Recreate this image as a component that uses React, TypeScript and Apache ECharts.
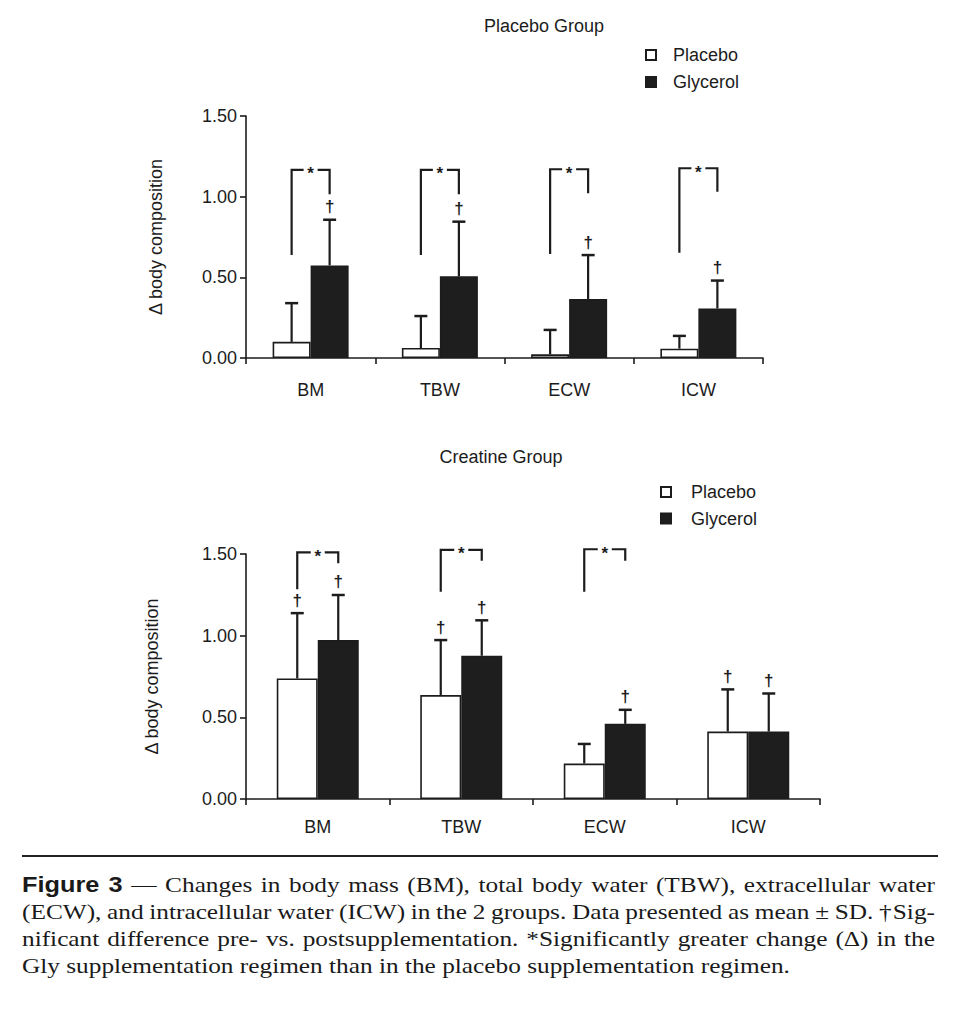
import React, { useEffect, useRef } from 'react';
import * as echarts from 'echarts';

// ---------- data ----------
const categories = ['BM', 'TBW', 'ECW', 'ICW'];
const yMin = 0;
const yMax = 1.5;
const yInterval = 0.5;

// Placebo Group panel
const pgPlaceboMean = [0.1, 0.062, 0.023, 0.058];
const pgPlaceboSD = [0.24, 0.198, 0.151, 0.079];
const pgPlaceboDagger = [0, 0, 0, 0];
const pgGlycerolMean = [0.574, 0.506, 0.366, 0.307];
const pgGlycerolSD = [0.283, 0.339, 0.272, 0.173];
const pgGlycerolDagger = [1, 1, 1, 1];
// [category index, bracket top, left leg bottom, right leg bottom]
const pgBrackets = [
  [0, 1.166, 0.638, 1.015],
  [1, 1.166, 0.638, 1.015],
  [2, 1.17, 0.645, 1.021],
  [3, 1.176, 0.652, 1.031],
];

// Creatine Group panel
const cgPlaceboMean = [0.738, 0.636, 0.217, 0.413];
const cgPlaceboSD = [0.4, 0.337, 0.12, 0.258];
const cgPlaceboDagger = [1, 1, 0, 1];
const cgGlycerolMean = [0.973, 0.877, 0.46, 0.413];
const cgGlycerolSD = [0.276, 0.217, 0.086, 0.233];
const cgGlycerolDagger = [1, 1, 1, 1];
const cgBrackets = [
  [0, 1.51, 1.284, 1.443],
  [1, 1.525, 1.269, 1.459],
  [2, 1.529, 1.269, 1.459],
];

const seriesNames = ['Placebo', 'Glycerol'];
const titles = ['Placebo Group', 'Creatine Group'];
const yAxisName = 'Δ body composition';

// ---------- styling ----------
const INK = '#1c1c1c';
const FONT = '"Liberation Sans", Arial, sans-serif';
const FS = 18;
const BW1 = 38;
const BW2 = 41;

const errorBarRender = (side: number, bw: number) => (params: any, api: any) => {
  const i = api.value(0);
  const m = api.value(1);
  const sd = api.value(2);
  const dg = api.value(3);
  const base = api.coord([i, m]);
  const top = api.coord([i, m + sd]);
  const cx = base[0] + (side * bw) / 2;
  const children: any[] = [
    { type: 'line', shape: { x1: cx, y1: base[1], x2: cx, y2: top[1] }, style: { stroke: INK, lineWidth: 2.2 } },
    { type: 'line', shape: { x1: cx - 6.5, y1: top[1], x2: cx + 6.5, y2: top[1] }, style: { stroke: INK, lineWidth: 2.5 } },
  ];
  if (dg) {
    children.push({
      type: 'text',
      x: cx,
      y: top[1] - 13,
      style: { text: '†', fill: INK, font: `bold 17px ${FONT}`, align: 'center', verticalAlign: 'middle' },
    });
  }
  return { type: 'group', children };
};

const bracketRender = (bw: number) => (params: any, api: any) => {
  const i = api.value(0);
  const t = api.value(1);
  const lb = api.value(2);
  const rb = api.value(3);
  const c = api.coord([i, t]);
  const xl = c[0] - bw / 2;
  const xr = c[0] + bw / 2;
  const yt = c[1];
  const yl = api.coord([i, lb])[1];
  const yr = api.coord([i, rb])[1];
  const st = { stroke: INK, lineWidth: 2.2, fill: 'none' };
  return {
    type: 'group',
    children: [
      { type: 'polyline', shape: { points: [[xl, yl], [xl, yt], [c[0] - 7, yt]] }, style: st },
      { type: 'polyline', shape: { points: [[c[0] + 7, yt], [xr, yt], [xr, yr]] }, style: st },
      {
        type: 'text',
        x: c[0],
        y: yt + 4,
        style: { text: '*', fill: INK, font: `bold 17px ${FONT}`, align: 'center', verticalAlign: 'middle' },
      },
    ],
  };
};

const toErr = (mean: number[], sd: number[], dg: number[]) => mean.map((m, i) => [i, m, sd[i], dg[i]]);

function axisPair(gridIndex: number, labelMargin: number, nameGap: number) {
  const x = {
    type: 'category',
    gridIndex,
    data: categories,
    axisLine: { show: true, lineStyle: { color: INK, width: 1.6 } },
    axisTick: { show: true, length: 6, lineStyle: { color: INK, width: 1.6 } },
    axisLabel: { color: INK, fontSize: FS, fontFamily: FONT, margin: labelMargin },
  };
  const y = {
    type: 'value',
    gridIndex,
    min: yMin,
    max: yMax,
    interval: yInterval,
    name: yAxisName,
    nameLocation: 'middle',
    nameRotate: 90,
    nameGap,
    nameTextStyle: { color: INK, fontSize: FS, fontFamily: FONT },
    axisLine: { show: true, lineStyle: { color: INK, width: 1.6 } },
    axisTick: { show: true, length: 6, lineStyle: { color: INK, width: 1.6 } },
    axisLabel: { color: INK, fontSize: FS, fontFamily: FONT, margin: 9, formatter: (v: number) => v.toFixed(2) },
    splitLine: { show: false },
  };
  return { x, y };
}

function buildOption() {
  const a1 = axisPair(0, 23, 81);
  const a2 = axisPair(1, 19, 85);
  const placeboStyle = { color: '#ffffff', borderColor: INK, borderWidth: 1.6 };
  const glyStyle = { color: '#1e1e1e', borderColor: INK, borderWidth: 1.6 };
  return {
    animation: false,
    backgroundColor: '#ffffff',
    title: [
      { text: titles[0], left: 544, top: 17, textAlign: 'center', padding: 0, textStyle: { color: INK, fontSize: FS, fontWeight: 'normal', fontFamily: FONT } },
      { text: titles[1], left: 501, top: 448, textAlign: 'center', padding: 0, textStyle: { color: INK, fontSize: FS, fontWeight: 'normal', fontFamily: FONT } },
    ],
    legend: [
      {
        data: seriesNames,
        orient: 'vertical',
        left: 645,
        top: 46,
        padding: 0,
        itemGap: 9,
        itemWidth: 10,
        itemHeight: 10,
        icon: 'rect',
        selectedMode: false,
        textStyle: { color: INK, fontSize: FS, fontFamily: FONT, lineHeight: 18, padding: [0, 0, 0, 12] },
      },
      {
        data: seriesNames,
        orient: 'vertical',
        left: 660,
        top: 483,
        padding: 0,
        itemGap: 8.5,
        itemWidth: 10,
        itemHeight: 10,
        icon: 'rect',
        selectedMode: false,
        textStyle: { color: INK, fontSize: FS, fontFamily: FONT, lineHeight: 18, padding: [0, 0, 0, 15] },
      },
    ],
    grid: [
      { left: 246, top: 116, width: 517, height: 242, containLabel: false },
      { left: 246, top: 554, width: 574, height: 245, containLabel: false },
    ],
    xAxis: [a1.x, a2.x],
    yAxis: [a1.y, a2.y],
    series: [
      { name: seriesNames[0], type: 'bar', xAxisIndex: 0, yAxisIndex: 0, barWidth: BW1, barGap: '0%', data: pgPlaceboMean, itemStyle: placeboStyle },
      { name: seriesNames[1], type: 'bar', xAxisIndex: 0, yAxisIndex: 0, barWidth: BW1, barGap: '0%', data: pgGlycerolMean, itemStyle: glyStyle },
      { name: seriesNames[0], type: 'bar', xAxisIndex: 1, yAxisIndex: 1, barWidth: BW2, barGap: '0%', data: cgPlaceboMean, itemStyle: placeboStyle },
      { name: seriesNames[1], type: 'bar', xAxisIndex: 1, yAxisIndex: 1, barWidth: BW2, barGap: '0%', data: cgGlycerolMean, itemStyle: glyStyle },
      { name: 'pg-err-p', type: 'custom', xAxisIndex: 0, yAxisIndex: 0, silent: true, z: 5, encode: { x: 0, y: 1 }, renderItem: errorBarRender(-1, BW1), data: toErr(pgPlaceboMean, pgPlaceboSD, pgPlaceboDagger) },
      { name: 'pg-err-g', type: 'custom', xAxisIndex: 0, yAxisIndex: 0, silent: true, z: 5, encode: { x: 0, y: 1 }, renderItem: errorBarRender(1, BW1), data: toErr(pgGlycerolMean, pgGlycerolSD, pgGlycerolDagger) },
      { name: 'cg-err-p', type: 'custom', xAxisIndex: 1, yAxisIndex: 1, silent: true, z: 5, encode: { x: 0, y: 1 }, renderItem: errorBarRender(-1, BW2), data: toErr(cgPlaceboMean, cgPlaceboSD, cgPlaceboDagger) },
      { name: 'cg-err-g', type: 'custom', xAxisIndex: 1, yAxisIndex: 1, silent: true, z: 5, encode: { x: 0, y: 1 }, renderItem: errorBarRender(1, BW2), data: toErr(cgGlycerolMean, cgGlycerolSD, cgGlycerolDagger) },
      { name: 'pg-br', type: 'custom', xAxisIndex: 0, yAxisIndex: 0, silent: true, z: 5, clip: false, encode: { x: 0, y: 1 }, renderItem: bracketRender(BW1), data: pgBrackets },
      { name: 'cg-br', type: 'custom', xAxisIndex: 1, yAxisIndex: 1, silent: true, z: 5, clip: false, encode: { x: 0, y: 1 }, renderItem: bracketRender(BW2), data: cgBrackets },
    ],
  };
}

const captionLines = [
  'Changes in body mass (BM), total body water (TBW), extracellular water',
  '(ECW), and intracellular water (ICW) in the 2 groups. Data presented as mean ± SD. †Sig-',
  'nificant difference pre- vs. postsupplementation. *Significantly greater change (Δ) in the',
  'Gly supplementation regimen than in the placebo supplementation regimen.',
];

const CAP_SCALE = 1.15;
const CAP_WIDTH = 913;

export default function App() {
  const ref = useRef<HTMLDivElement>(null);
  useEffect(() => {
    if (!ref.current) return;
    const chart = echarts.init(ref.current, null, { renderer: 'svg' });
    chart.setOption(buildOption() as any);
    return () => chart.dispose();
  }, []);

  const lineStyle = (i: number): React.CSSProperties => ({
    position: 'absolute',
    left: 0,
    top: 871 + i * 27,
    width: CAP_WIDTH / CAP_SCALE,
    height: 27,
    lineHeight: '27px',
    whiteSpace: 'nowrap',
    wordSpacing: i < 3 ? '-1.5px' : '0px',
    textAlign: i < 3 ? 'justify' : 'left',
    textAlignLast: i < 3 ? 'justify' : 'left',
    fontFamily: '"Liberation Serif", "Times New Roman", serif',
    fontSize: 22,
    color: '#1a1a1a',
  } as React.CSSProperties);

  return (
    <div style={{ position: 'absolute', left: 0, top: 0, width: 960, height: 1024, background: '#fff', overflow: 'hidden' }}>
      <div ref={ref} style={{ position: 'absolute', left: 0, top: 0, width: 960, height: 845 }} />
      <div style={{ position: 'absolute', left: 22, top: 855, width: 916, height: 1.6, background: '#222' }} />
      <div style={{ position: 'absolute', left: 22, top: 0, width: CAP_WIDTH / CAP_SCALE, height: 1024, transform: `scaleX(${CAP_SCALE})`, transformOrigin: 'left top' }}>
        {captionLines.map((t, i) => (
          <div key={i} style={lineStyle(i)}>
            {i === 0 ? (
              <>
                <span style={{ fontFamily: '"Liberation Sans", Arial, sans-serif', fontWeight: 'bold', fontSize: 22 }}>Figure 3</span>
                {' — '}
                {t}
              </>
            ) : (
              t
            )}
          </div>
        ))}
      </div>
    </div>
  );
}
